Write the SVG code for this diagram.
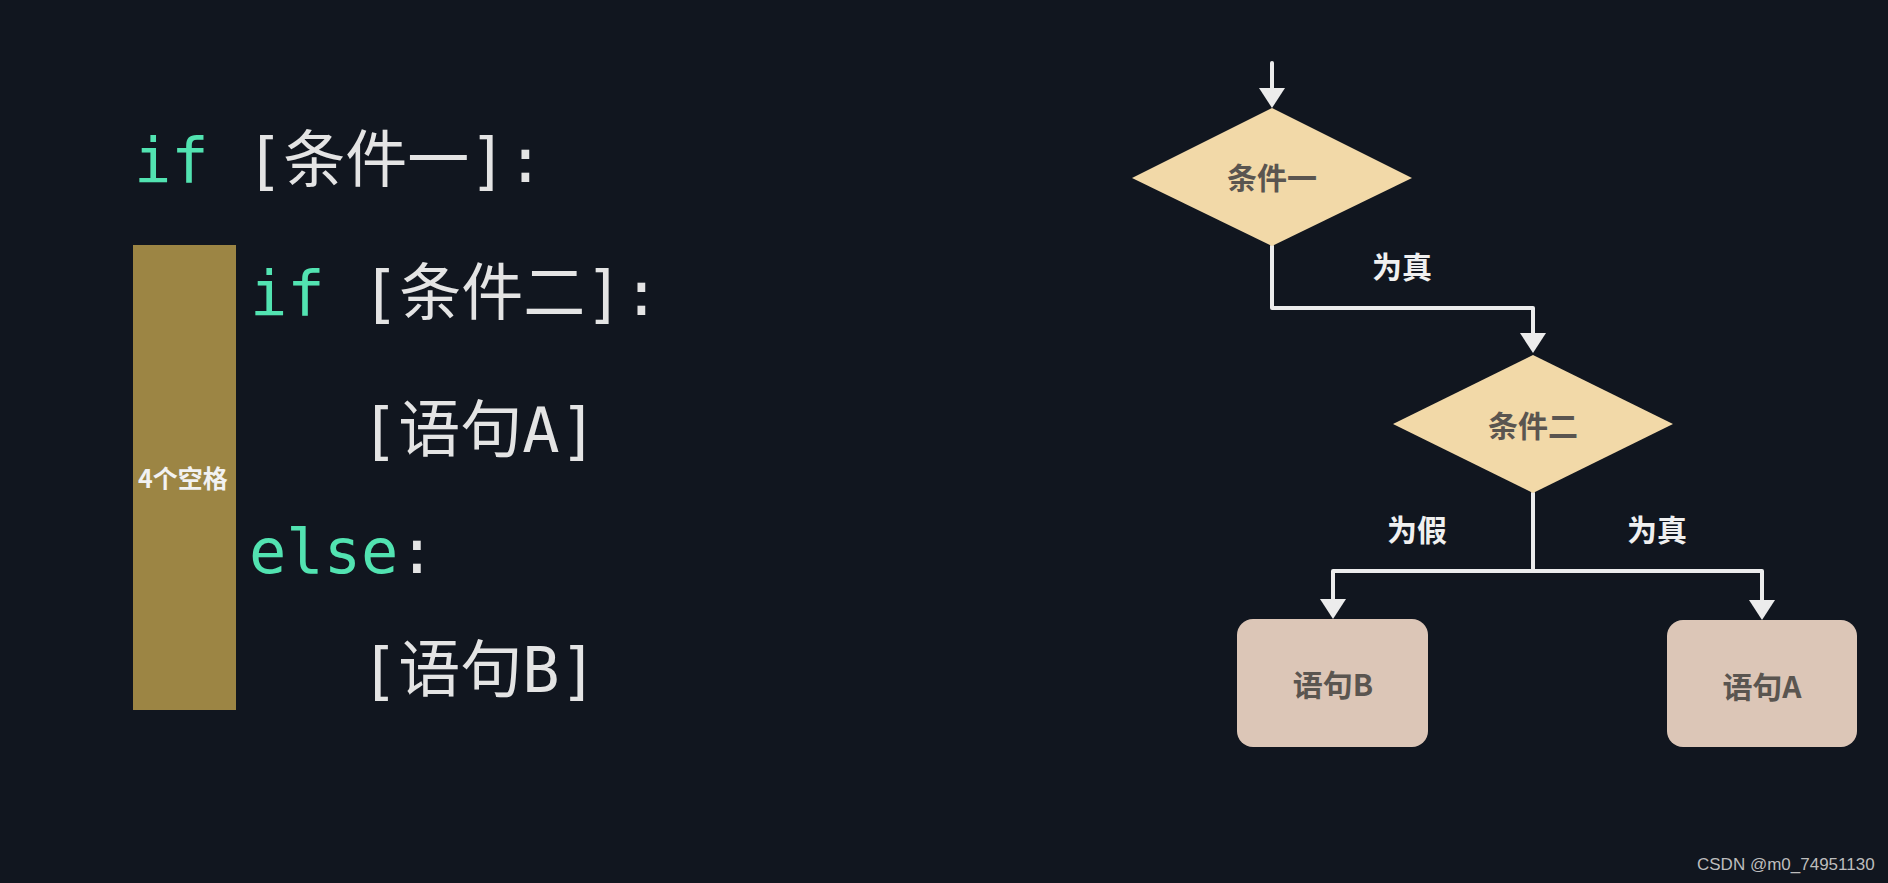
<svg xmlns="http://www.w3.org/2000/svg" width="1888" height="883" viewBox="0 0 1888 883">
  <style>
    .code { font-family: "DejaVu Sans Mono", "Noto Sans CJK SC", monospace; font-size: 62px; fill: #e4e4e4; }
    .kw { fill: #52e3b1; }
    .node-text { font-family: "Noto Sans CJK SC", "Noto Sans", sans-serif; font-weight: bold; font-size: 30px; fill: #5a5550; text-anchor: middle; }
    .label { font-family: "Noto Sans CJK SC", "Noto Sans", sans-serif; font-weight: bold; font-size: 30px; fill: #f0f0f0; text-anchor: middle; }
    .diamond { fill: #f2d9a8; }
    .box { fill: #dcc6b7; }
    .conn { fill: none; stroke: #ececec; stroke-width: 4; stroke-linecap: round; stroke-linejoin: round; }
  </style>
  <defs>
    <marker id="arrow" markerUnits="userSpaceOnUse" markerWidth="22" markerHeight="28" refX="10" refY="13" orient="auto" overflow="visible">
      <path d="M0,0 L20,13 L0,26 Z" fill="#ececec"/>
    </marker>
  </defs>
  <rect width="1888" height="883" fill="#11161f"/>

  <g id="code">
    <text class="code" x="134" y="182"><tspan class="kw">if</tspan> [条件一]:</text>
    <rect id="indent-bar" x="133" y="245" width="103" height="465" fill="#9c8544"/>
    <text x="183" y="488" font-family="Noto Sans CJK SC, Noto Sans, sans-serif" font-weight="bold" font-size="25" fill="#f2f2f2" text-anchor="middle">4个空格</text>
    <text class="code" x="250" y="315"><tspan class="kw">if</tspan> [条件二]:</text>
    <text class="code" x="361" y="452">[语句A]</text>
    <text class="code" x="249" y="573"><tspan class="kw">else</tspan>:</text>
    <text class="code" x="361" y="692">[语句B]</text>
  </g>

  <g id="connectors">
    <path class="conn" d="M1272,63 V98" marker-end="url(#arrow)"/>
    <path class="conn" d="M1272,246 V308 H1533 V343" marker-end="url(#arrow)"/>
    <path class="conn" d="M1533,493 V571 H1333 V609" marker-end="url(#arrow)"/>
    <path class="conn" d="M1533,571 H1762 V610" marker-end="url(#arrow)"/>
    <text class="label" x="1402" y="278">为真</text>
    <text class="label" x="1417" y="541">为假</text>
    <text class="label" x="1657" y="541">为真</text>
  </g>

  <g id="cond1">
    <polygon class="diamond" points="1272,108 1412,178 1272,246 1132,178"/>
    <text class="node-text" x="1272" y="189">条件一</text>
  </g>
  <g id="cond2">
    <polygon class="diamond" points="1533,355 1673,424 1533,493 1393,424"/>
    <text class="node-text" x="1533" y="437">条件二</text>
  </g>
  <g id="stmtB">
    <rect class="box" x="1237" y="619" width="191" height="128" rx="16"/>
    <text class="node-text" x="1333" y="696">语句B</text>
  </g>
  <g id="stmtA">
    <rect class="box" x="1667" y="620" width="190" height="127" rx="16"/>
    <text class="node-text" x="1762" y="698">语句A</text>
  </g>

  <text x="1697" y="870" font-family="Liberation Sans, Arial, sans-serif" font-size="17" fill="#bdbdbd">CSDN @m0_74951130</text>
</svg>
